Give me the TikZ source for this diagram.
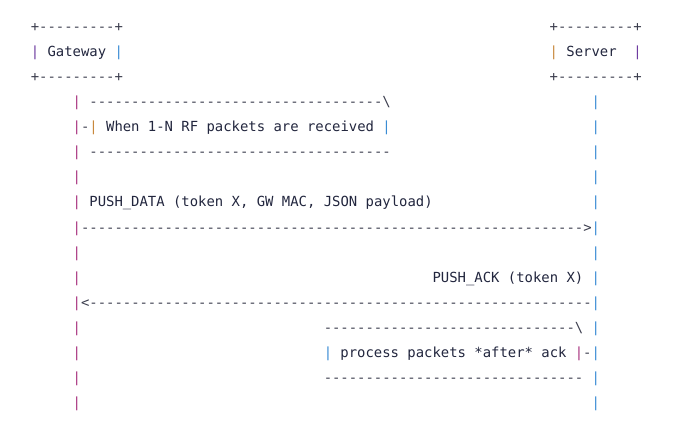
\documentclass[tikz,border=0pt]{standalone}
\usepackage{fontspec}
\setmonofont{DejaVu Sans Mono}
\definecolor{txt}{RGB}{34,38,62}
\definecolor{dsh}{RGB}{60,62,78}
\definecolor{barM}{RGB}{168,52,128}
\definecolor{barB}{RGB}{58,140,212}
\definecolor{barO}{RGB}{200,136,60}
\definecolor{barP}{RGB}{110,60,160}
\newcommand\dashrun[1]{\foreach\k in {1,...,#1}{-}}
\newcommand\at[4][txt]{\node[asc,text=#1] (n#2-#3) at ({30.8+8.37*#3},{31.5+25.07*#2}) {#4};}
\begin{document}
\begin{tikzpicture}[x=0.75pt,y=-0.75pt,
  asc/.style={anchor=base west,inner sep=0pt,outer sep=0pt,font=\ttfamily\fontsize{10.43pt}{12pt}\selectfont}]
\useasboundingbox (0,0) rectangle (687,439);
% boxes
\at[dsh]{0}{0}{+\dashrun{9}+}
\at[dsh]{0}{62}{+\dashrun{9}+}
\at[barP]{1}{0}{|}
\at{1}{2}{Gateway}
\at[barB]{1}{10}{|}
\at[barO]{1}{62}{|}
\at{1}{64}{Server}
\at[barP]{1}{72}{|}
\at[dsh]{2}{0}{+\dashrun{9}+}
\at[dsh]{2}{62}{+\dashrun{9}+}
% lifelines
\foreach \r in {3,...,15}{
  \node[asc,text=barM] (g\r) at ({30.8+8.37*5},{31.5+25.07*\r}) {|};
  \node[asc,text=barB] (s\r) at ({30.8+8.37*67},{31.5+25.07*\r}) {|};
}
% note 1
\at[dsh]{3}{7}{\dashrun{35}\textbackslash}
\at[dsh]{4}{6}{-}
\at[barO]{4}{7}{|}
\at{4}{9}{When 1-N RF packets are received}
\at[barB]{4}{42}{|}
\at[dsh]{5}{7}{\dashrun{36}}
% push data
\at{7}{7}{PUSH\_DATA (token X, GW MAC, JSON payload)}
\at[dsh]{8}{6}{\dashrun{60}>}
% push ack
\at{10}{48}{PUSH\_ACK (token X)}
\at[dsh]{11}{6}{<\dashrun{60}}
% note 2
\at[dsh]{12}{35}{\dashrun{30}\textbackslash}
\at[barB]{13}{35}{|}
\at{13}{37}{process packets *after* ack}
\at[barM]{13}{65}{|}
\at[dsh]{13}{66}{-}
\at[dsh]{14}{35}{\dashrun{31}}
\end{tikzpicture}
\end{document}
